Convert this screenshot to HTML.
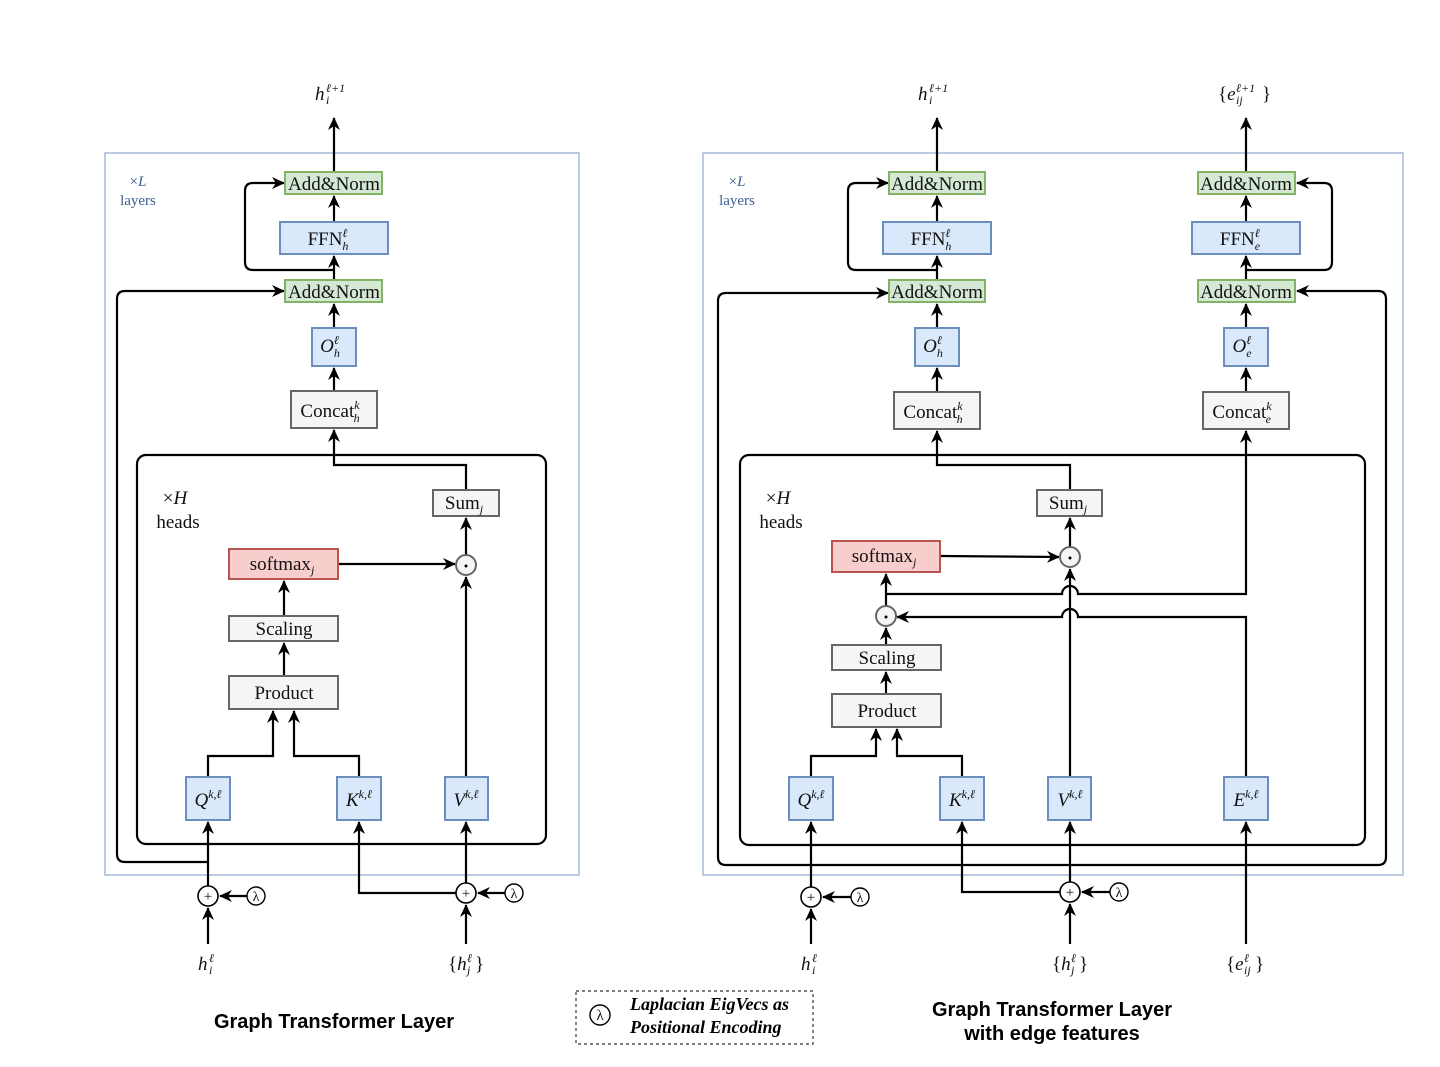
<!DOCTYPE html>
<html><head><meta charset="utf-8"><style>
html,body{margin:0;padding:0;background:#fff;}
svg{display:block;}
.n{font-family:"Liberation Serif",serif;font-size:19px;fill:#111;}
.i{font-style:italic;}
.s{font-size:12px;}
.ln{fill:none;stroke:#000;stroke-width:2.2;}
.t{font-family:'Liberation Sans',sans-serif;font-weight:bold;font-size:20px;}
</style></head><body>
<svg width="1440" height="1067" viewBox="0 0 1440 1067" xmlns="http://www.w3.org/2000/svg">
<defs>
<marker id="a" markerUnits="userSpaceOnUse" markerWidth="14" markerHeight="14" refX="12" refY="7" orient="auto">
<path d="M0,1 L13,7 L0,13 L4,7 Z" fill="#000"/></marker>
</defs>

<!-- ================= LEFT ================= -->
<rect x="105" y="153" width="474" height="722" fill="none" stroke="#8fa9cf" stroke-width="1.2"/>
<text x="138" y="186" class="n" text-anchor="middle" style="font-size:15px;fill:#3d5f94">×<tspan class="i">L</tspan></text>
<text x="138" y="205" class="n" text-anchor="middle" style="font-size:15px;fill:#3d5f94">layers</text>
<rect x="137" y="455" width="409" height="389" rx="9" fill="none" stroke="#000" stroke-width="2.2"/>
<text x="175" y="504" class="n" text-anchor="middle">×<tspan class="i">H</tspan></text>
<text x="178" y="528" class="n" text-anchor="middle">heads</text>

<path class="ln" d="M334,172 V118" marker-end="url(#a)"/>
<path class="ln" d="M334,222 V196" marker-end="url(#a)"/>
<path class="ln" d="M334,280 V256" marker-end="url(#a)"/>
<path class="ln" d="M334,270 H253 Q245,270 245,262 V191 Q245,183 253,183 H284" marker-end="url(#a)"/>
<path class="ln" d="M334,328 V304" marker-end="url(#a)"/>
<path class="ln" d="M334,391 V368" marker-end="url(#a)"/>
<path class="ln" d="M466,490 V465 H334 V430" marker-end="url(#a)"/>
<path class="ln" d="M466,555 V518" marker-end="url(#a)"/>
<path class="ln" d="M338,564 H455" marker-end="url(#a)"/>
<path class="ln" d="M466,777 V577" marker-end="url(#a)"/>
<path class="ln" d="M284,616 V581" marker-end="url(#a)"/>
<path class="ln" d="M284,676 V643" marker-end="url(#a)"/>
<path class="ln" d="M208,777 V756 H273 V711" marker-end="url(#a)"/>
<path class="ln" d="M359,777 V756 H294 V711" marker-end="url(#a)"/>
<path class="ln" d="M208,886 V822" marker-end="url(#a)"/>
<path class="ln" d="M208,862 H125 Q117,862 117,854 V299 Q117,291 125,291 H284" marker-end="url(#a)"/>
<path class="ln" d="M208,944 V908" marker-end="url(#a)"/>
<path class="ln" d="M247,896 H220" marker-end="url(#a)"/>
<path class="ln" d="M466,883 V822" marker-end="url(#a)"/>
<path class="ln" d="M456,893 H359 V822" marker-end="url(#a)"/>
<path class="ln" d="M466,944 V905" marker-end="url(#a)"/>
<path class="ln" d="M505,893 H478" marker-end="url(#a)"/>

<rect x="285" y="172" width="97" height="22" fill="#d5e8d4" stroke="#82b366" stroke-width="2"/>
<text x="334" y="190" class="n" text-anchor="middle">Add&amp;Norm</text>
<rect x="280" y="222" width="108" height="32" fill="#dae8fc" stroke="#6c8ebf" stroke-width="2"/>
<text x="328" y="245" class="n" text-anchor="middle">FFN<tspan class="s i" dy="-8">ℓ</tspan><tspan class="s i" dx="-5" dy="13">h</tspan></text>
<rect x="285" y="280" width="97" height="22" fill="#d5e8d4" stroke="#82b366" stroke-width="2"/>
<text x="334" y="298" class="n" text-anchor="middle">Add&amp;Norm</text>
<rect x="312" y="328" width="44" height="38" fill="#dae8fc" stroke="#6c8ebf" stroke-width="2"/>
<text x="330" y="352" class="n i" text-anchor="middle">O<tspan class="s" dy="-8">ℓ</tspan><tspan class="s" dx="-5" dy="13">h</tspan></text>
<rect x="291" y="391" width="86" height="37" fill="#f5f5f5" stroke="#666" stroke-width="2"/>
<text x="330" y="417" class="n" text-anchor="middle">Concat<tspan class="s i" dy="-8">k</tspan><tspan class="s i" dx="-6" dy="13">h</tspan></text>
<rect x="433" y="490" width="66" height="26" fill="#f5f5f5" stroke="#666" stroke-width="2"/>
<text x="464" y="509" class="n" text-anchor="middle">Sum<tspan class="s i" dy="4">j</tspan></text>
<rect x="229" y="549" width="109" height="30" fill="#f8cecc" stroke="#b85450" stroke-width="2"/>
<text x="282" y="570" class="n" text-anchor="middle">softmax<tspan class="s i" dy="4">j</tspan></text>
<circle cx="466" cy="565" r="10" fill="#f5f5f5" stroke="#666" stroke-width="2"/>
<circle cx="466" cy="566" r="1.5" fill="#000"/>
<rect x="229" y="616" width="109" height="25" fill="#f5f5f5" stroke="#666" stroke-width="2"/>
<text x="284" y="635" class="n" text-anchor="middle">Scaling</text>
<rect x="229" y="676" width="109" height="33" fill="#f5f5f5" stroke="#666" stroke-width="2"/>
<text x="284" y="699" class="n" text-anchor="middle">Product</text>
<rect x="186" y="777" width="44" height="43" fill="#dae8fc" stroke="#6c8ebf" stroke-width="2"/>
<text x="208" y="806" class="n i" text-anchor="middle">Q<tspan class="s" dy="-8">k,ℓ</tspan></text>
<rect x="337" y="777" width="44" height="43" fill="#dae8fc" stroke="#6c8ebf" stroke-width="2"/>
<text x="359" y="806" class="n i" text-anchor="middle">K<tspan class="s" dy="-8">k,ℓ</tspan></text>
<rect x="445" y="777" width="43" height="43" fill="#dae8fc" stroke="#6c8ebf" stroke-width="2"/>
<text x="466" y="806" class="n i" text-anchor="middle">V<tspan class="s" dy="-8">k,ℓ</tspan></text>
<circle cx="208" cy="896" r="10" fill="#fff" stroke="#000" stroke-width="1.6"/>
<text x="208" y="901" class="n" text-anchor="middle" style="font-size:15px">+</text>
<circle cx="256" cy="896" r="9" fill="#fff" stroke="#000" stroke-width="1.4"/>
<text x="256" y="901" class="n" text-anchor="middle" style="font-size:14px">λ</text>
<circle cx="466" cy="893" r="10" fill="#fff" stroke="#000" stroke-width="1.6"/>
<text x="466" y="898" class="n" text-anchor="middle" style="font-size:15px">+</text>
<circle cx="514" cy="893" r="9" fill="#fff" stroke="#000" stroke-width="1.4"/>
<text x="514" y="898" class="n" text-anchor="middle" style="font-size:14px">λ</text>
<text x="198" y="970" class="n i">h<tspan class="s" x="209" dy="-8">ℓ</tspan><tspan class="s" x="209" dy="12">i</tspan></text>
<text x="448" y="970" class="n">{<tspan class="i">h</tspan><tspan class="s i" x="467" dy="-8">ℓ</tspan><tspan class="s i" x="467" dy="12">j</tspan><tspan x="475" dy="-4">}</tspan></text>
<text x="315" y="100" class="n i">h<tspan class="s" x="326" dy="-8">ℓ+1</tspan><tspan class="s" x="326" dy="12">i</tspan></text>
<text x="334" y="1028" text-anchor="middle" class="t">Graph Transformer Layer</text>

<rect x="576" y="991" width="237" height="53" fill="none" stroke="#333" stroke-width="1.2" stroke-dasharray="3,3"/>
<circle cx="600" cy="1015" r="10" fill="#fff" stroke="#000" stroke-width="1.4"/>
<text x="600" y="1020" class="n" text-anchor="middle" style="font-size:15px">λ</text>
<text x="630" y="1010" style="font-family:'Liberation Serif',serif;font-style:italic;font-weight:bold;font-size:18px">Laplacian EigVecs as</text>
<text x="630" y="1033" style="font-family:'Liberation Serif',serif;font-style:italic;font-weight:bold;font-size:18px">Positional Encoding</text>

<!-- ================= RIGHT ================= -->
<rect x="703" y="153" width="700" height="722" fill="none" stroke="#8fa9cf" stroke-width="1.2"/>
<text x="737" y="186" class="n" text-anchor="middle" style="font-size:15px;fill:#3d5f94">×<tspan class="i">L</tspan></text>
<text x="737" y="205" class="n" text-anchor="middle" style="font-size:15px;fill:#3d5f94">layers</text>
<rect x="740" y="455" width="625" height="390" rx="9" fill="none" stroke="#000" stroke-width="2.2"/>
<text x="778" y="504" class="n" text-anchor="middle">×<tspan class="i">H</tspan></text>
<text x="781" y="528" class="n" text-anchor="middle">heads</text>

<path class="ln" d="M937,172 V118" marker-end="url(#a)"/>
<path class="ln" d="M937,222 V196" marker-end="url(#a)"/>
<path class="ln" d="M937,280 V256" marker-end="url(#a)"/>
<path class="ln" d="M937,270 H856 Q848,270 848,262 V191 Q848,183 856,183 H888" marker-end="url(#a)"/>
<path class="ln" d="M937,328 V304" marker-end="url(#a)"/>
<path class="ln" d="M937,392 V368" marker-end="url(#a)"/>
<path class="ln" d="M1246,172 V118" marker-end="url(#a)"/>
<path class="ln" d="M1246,222 V196" marker-end="url(#a)"/>
<path class="ln" d="M1246,280 V256" marker-end="url(#a)"/>
<path class="ln" d="M1246,270 H1324 Q1332,270 1332,262 V191 Q1332,183 1324,183 H1297" marker-end="url(#a)"/>
<path class="ln" d="M1246,328 V304" marker-end="url(#a)"/>
<path class="ln" d="M1246,392 V368" marker-end="url(#a)"/>
<path class="ln" d="M1070,490 V465 H937 V431" marker-end="url(#a)"/>
<path class="ln" d="M1070,547 V518" marker-end="url(#a)"/>
<path class="ln" d="M940,556 L1059,557" marker-end="url(#a)"/>
<path class="ln" d="M1070,777 V569" marker-end="url(#a)"/>
<path class="ln" d="M886,594 H1062 A8,8 0 0 1 1078,594 H1246 V431" marker-end="url(#a)"/>
<path class="ln" d="M886,606 V574" marker-end="url(#a)"/>
<path class="ln" d="M1246,777 V617 H1078 A8,8 0 0 0 1062,617 H897" marker-end="url(#a)"/>
<path class="ln" d="M886,645 V628" marker-end="url(#a)"/>
<path class="ln" d="M886,694 V672" marker-end="url(#a)"/>
<path class="ln" d="M811,777 V756 H876 V729" marker-end="url(#a)"/>
<path class="ln" d="M962,777 V756 H897 V729" marker-end="url(#a)"/>
<path class="ln" d="M811,887 V822" marker-end="url(#a)"/>
<path class="ln" d="M811,865 H726 Q718,865 718,857 V301 Q718,293 726,293 H888" marker-end="url(#a)"/>
<path class="ln" d="M811,865 H1378 Q1386,865 1386,857 V299 Q1386,291 1378,291 H1297" marker-end="url(#a)"/>
<path class="ln" d="M811,944 V909" marker-end="url(#a)"/>
<path class="ln" d="M851,897 H823" marker-end="url(#a)"/>
<path class="ln" d="M1070,882 V822" marker-end="url(#a)"/>
<path class="ln" d="M1060,892 H962 V822" marker-end="url(#a)"/>
<path class="ln" d="M1070,944 V904" marker-end="url(#a)"/>
<path class="ln" d="M1110,892 H1082" marker-end="url(#a)"/>
<path class="ln" d="M1246,944 V822" marker-end="url(#a)"/>

<rect x="889" y="172" width="96" height="22" fill="#d5e8d4" stroke="#82b366" stroke-width="2"/>
<text x="937" y="190" class="n" text-anchor="middle">Add&amp;Norm</text>
<rect x="883" y="222" width="108" height="32" fill="#dae8fc" stroke="#6c8ebf" stroke-width="2"/>
<text x="931" y="245" class="n" text-anchor="middle">FFN<tspan class="s i" dy="-8">ℓ</tspan><tspan class="s i" dx="-5" dy="13">h</tspan></text>
<rect x="889" y="280" width="96" height="22" fill="#d5e8d4" stroke="#82b366" stroke-width="2"/>
<text x="937" y="298" class="n" text-anchor="middle">Add&amp;Norm</text>
<rect x="915" y="328" width="44" height="38" fill="#dae8fc" stroke="#6c8ebf" stroke-width="2"/>
<text x="933" y="352" class="n i" text-anchor="middle">O<tspan class="s" dy="-8">ℓ</tspan><tspan class="s" dx="-5" dy="13">h</tspan></text>
<rect x="894" y="392" width="86" height="37" fill="#f5f5f5" stroke="#666" stroke-width="2"/>
<text x="933" y="418" class="n" text-anchor="middle">Concat<tspan class="s i" dy="-8">k</tspan><tspan class="s i" dx="-6" dy="13">h</tspan></text>

<rect x="1198" y="172" width="97" height="22" fill="#d5e8d4" stroke="#82b366" stroke-width="2"/>
<text x="1246" y="190" class="n" text-anchor="middle">Add&amp;Norm</text>
<rect x="1192" y="222" width="108" height="32" fill="#dae8fc" stroke="#6c8ebf" stroke-width="2"/>
<text x="1240" y="245" class="n" text-anchor="middle">FFN<tspan class="s i" dy="-8">ℓ</tspan><tspan class="s i" dx="-5" dy="13">e</tspan></text>
<rect x="1198" y="280" width="97" height="22" fill="#d5e8d4" stroke="#82b366" stroke-width="2"/>
<text x="1246" y="298" class="n" text-anchor="middle">Add&amp;Norm</text>
<rect x="1224" y="328" width="44" height="38" fill="#dae8fc" stroke="#6c8ebf" stroke-width="2"/>
<text x="1242" y="352" class="n i" text-anchor="middle">O<tspan class="s" dy="-8">ℓ</tspan><tspan class="s" dx="-5" dy="13">e</tspan></text>
<rect x="1203" y="392" width="86" height="37" fill="#f5f5f5" stroke="#666" stroke-width="2"/>
<text x="1242" y="418" class="n" text-anchor="middle">Concat<tspan class="s i" dy="-8">k</tspan><tspan class="s i" dx="-6" dy="13">e</tspan></text>

<rect x="1037" y="490" width="65" height="26" fill="#f5f5f5" stroke="#666" stroke-width="2"/>
<text x="1068" y="509" class="n" text-anchor="middle">Sum<tspan class="s i" dy="4">j</tspan></text>
<rect x="832" y="541" width="108" height="31" fill="#f8cecc" stroke="#b85450" stroke-width="2"/>
<text x="884" y="562" class="n" text-anchor="middle">softmax<tspan class="s i" dy="4">j</tspan></text>
<circle cx="1070" cy="557" r="10" fill="#f5f5f5" stroke="#666" stroke-width="2"/>
<circle cx="1070" cy="558" r="1.5" fill="#000"/>
<circle cx="886" cy="616" r="10" fill="#f5f5f5" stroke="#666" stroke-width="2"/>
<circle cx="886" cy="617" r="1.5" fill="#000"/>
<rect x="832" y="645" width="109" height="25" fill="#f5f5f5" stroke="#666" stroke-width="2"/>
<text x="887" y="664" class="n" text-anchor="middle">Scaling</text>
<rect x="832" y="694" width="109" height="33" fill="#f5f5f5" stroke="#666" stroke-width="2"/>
<text x="887" y="717" class="n" text-anchor="middle">Product</text>
<rect x="789" y="777" width="44" height="43" fill="#dae8fc" stroke="#6c8ebf" stroke-width="2"/>
<text x="811" y="806" class="n i" text-anchor="middle">Q<tspan class="s" dy="-8">k,ℓ</tspan></text>
<rect x="940" y="777" width="44" height="43" fill="#dae8fc" stroke="#6c8ebf" stroke-width="2"/>
<text x="962" y="806" class="n i" text-anchor="middle">K<tspan class="s" dy="-8">k,ℓ</tspan></text>
<rect x="1048" y="777" width="43" height="43" fill="#dae8fc" stroke="#6c8ebf" stroke-width="2"/>
<text x="1070" y="806" class="n i" text-anchor="middle">V<tspan class="s" dy="-8">k,ℓ</tspan></text>
<rect x="1224" y="777" width="44" height="43" fill="#dae8fc" stroke="#6c8ebf" stroke-width="2"/>
<text x="1246" y="806" class="n i" text-anchor="middle">E<tspan class="s" dy="-8">k,ℓ</tspan></text>
<circle cx="811" cy="897" r="10" fill="#fff" stroke="#000" stroke-width="1.6"/>
<text x="811" y="902" class="n" text-anchor="middle" style="font-size:15px">+</text>
<circle cx="860" cy="897" r="9" fill="#fff" stroke="#000" stroke-width="1.4"/>
<text x="860" y="902" class="n" text-anchor="middle" style="font-size:14px">λ</text>
<circle cx="1070" cy="892" r="10" fill="#fff" stroke="#000" stroke-width="1.6"/>
<text x="1070" y="897" class="n" text-anchor="middle" style="font-size:15px">+</text>
<circle cx="1119" cy="892" r="9" fill="#fff" stroke="#000" stroke-width="1.4"/>
<text x="1119" y="897" class="n" text-anchor="middle" style="font-size:14px">λ</text>
<text x="801" y="970" class="n i">h<tspan class="s" x="812" dy="-8">ℓ</tspan><tspan class="s" x="812" dy="12">i</tspan></text>
<text x="1052" y="970" class="n">{<tspan class="i">h</tspan><tspan class="s i" x="1071" dy="-8">ℓ</tspan><tspan class="s i" x="1071" dy="12">j</tspan><tspan x="1079" dy="-4">}</tspan></text>
<text x="1226" y="970" class="n">{<tspan class="i">e</tspan><tspan class="s i" x="1244" dy="-8">ℓ</tspan><tspan class="s i" x="1244" dy="12">ij</tspan><tspan x="1255" dy="-4">}</tspan></text>
<text x="918" y="100" class="n i">h<tspan class="s" x="929" dy="-8">ℓ+1</tspan><tspan class="s" x="929" dy="12">i</tspan></text>
<text x="1218" y="100" class="n">{<tspan class="i">e</tspan><tspan class="s i" x="1236" dy="-8">ℓ+1</tspan><tspan class="s i" x="1236" dy="12">ij</tspan><tspan x="1262" dy="-4">}</tspan></text>
<text x="1052" y="1016" text-anchor="middle" class="t">Graph Transformer Layer</text>
<text x="1052" y="1040" text-anchor="middle" class="t">with edge features</text>
</svg>
</body></html>
